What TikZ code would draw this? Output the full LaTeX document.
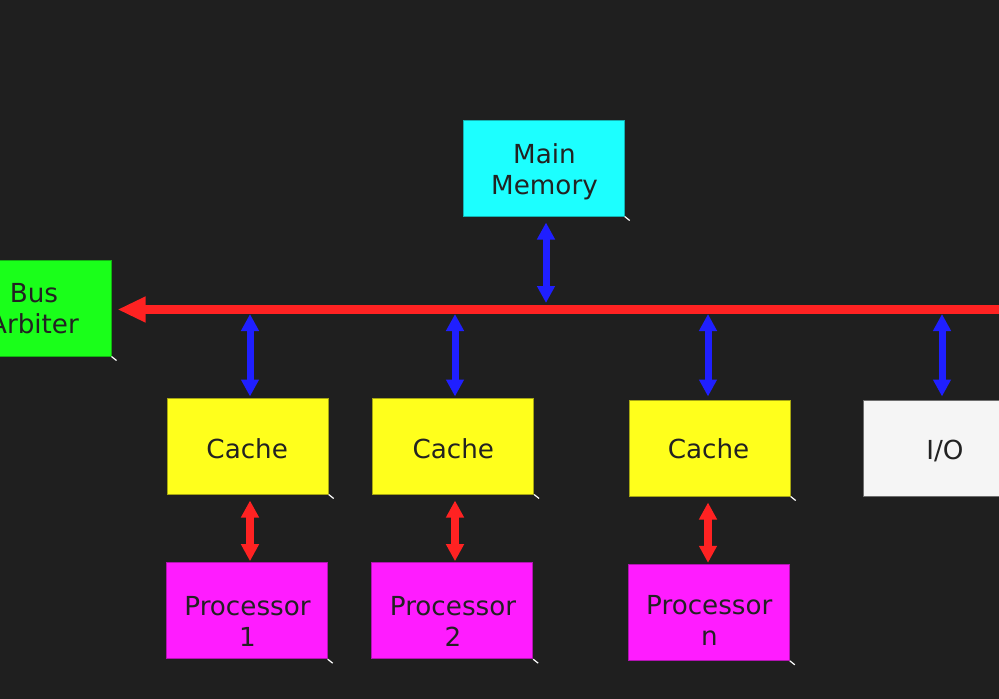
\documentclass[tikz,border=0pt]{standalone}
\usepackage{fontspec}
\setmainfont{DejaVu Sans}
\usetikzlibrary{arrows.meta,calc}
\definecolor{bg}{HTML}{1F1F1F}
\definecolor{txt}{HTML}{222222}
\definecolor{cyanbox}{HTML}{1CFFFF}
\definecolor{greenbox}{HTML}{1AFF1A}
\definecolor{yellowbox}{HTML}{FFFF1C}
\definecolor{magbox}{HTML}{FF1CFF}
\definecolor{iobox}{HTML}{F5F5F5}
\definecolor{reda}{HTML}{FF2222}
\definecolor{bluea}{HTML}{1F1FFF}
\tikzset{
  box/.style={minimum width=161pt, minimum height=96pt, inner sep=0pt, line width=1pt},
  lbl/.style={text=txt, align=center, font=\fontsize{26.2}{31}\selectfont, inner sep=0pt},
  barr/.style={draw=bluea, line width=7pt, arrows={Triangle[width=17pt,length=17pt]-Triangle[width=17pt,length=17pt]}},
  rarr/.style={draw=reda, line width=8pt, arrows={Triangle[width=17pt,length=17pt]-Triangle[width=17pt,length=17pt]}},
  busline/.style={draw=reda, line width=9pt, arrows={-Triangle[width=24pt,length=28pt]}},
  tick/.style={draw=white, line width=1.2pt}
}
\begin{document}
\begin{tikzpicture}[x=1pt,y=-1pt]
\useasboundingbox (0,0) rectangle (999,699);
\fill[bg] (0,0) rectangle (999,699);
\clip (0,0) rectangle (999,699);

% boxes
\node[box, fill=cyanbox, draw=cyanbox!70!black] (mm) at (543.7,168) {};
\node[lbl] (mmt) at (544.5,171.3) {Main\\Memory};

\node[box, minimum width=154pt, fill=greenbox, draw=greenbox!70!black] (ba) at (34,308) {};
\node[lbl] (bat) at (34,309) {Bus\\Arbiter};

\node[box, fill=yellowbox, draw=yellowbox!65!black] (c1) at (247.7,446) {};
\node[lbl] (c1t) at (247.2,449) {Cache};
\node[box, fill=yellowbox, draw=yellowbox!65!black] (c2) at (453.1,446) {};
\node[lbl] (c2t) at (453.3,449) {Cache};
\node[box, fill=yellowbox, draw=yellowbox!65!black] (cn) at (709.7,448) {};
\node[lbl] (cnt) at (708.5,449) {Cache};

\node[box, fill=iobox, draw=iobox!45!black] (io) at (943.7,448) {};
\node[lbl] (iot) at (945,450.5) {I/O};

\node[box, fill=magbox, draw=magbox!70!black] (p1) at (246.7,610.7) {};
\node[lbl] (p1t) at (247.5,621) {Processor\\1};
\node[box, fill=magbox, draw=magbox!70!black] (p2) at (452.2,610.7) {};
\node[lbl] (p2t) at (453,621) {Processor\\2};
\node[box, fill=magbox, draw=magbox!70!black] (pn) at (708.8,612.3) {};
\node[lbl] (pnt) at (709.3,620.5) {Processor\\n};

% corner ticks
\foreach \n in {mm,ba,c1,c2,cn,p1,p2,pn}{
  \draw[tick] (\n.south east) -- ++(5,4);
}

% bus
\coordinate (busR) at (1010,309.5);
\draw[busline] (busR) -- ($(ba.east |- busR)+(6,0)$);

% bus tap coordinates
\coordinate (b0) at (546,303);
\coordinate (b1) at (250,314);
\coordinate (b2) at (455,314);
\coordinate (b3) at (708,314);
\coordinate (b4) at (942,314);

% blue arrows
\draw[barr] ($(mm.south -| b0)+(0,6)$) -- (b0);
\draw[barr] (b1) -- ($(c1.north -| b1)+(0,-1)$);
\draw[barr] (b2) -- ($(c2.north -| b2)+(0,-1)$);
\draw[barr] (b3) -- ($(cn.north -| b3)+(0,-3)$);
\draw[barr] (b4) -- ($(io.north -| b4)+(0,-3)$);

% red arrows
\draw[rarr] ($(c1.south -| b1)+(0,6)$) -- ($(p1.north -| b1)+(0,-1)$);
\draw[rarr] ($(c2.south -| b2)+(0,6)$) -- ($(p2.north -| b2)+(0,-1)$);
\draw[rarr] ($(cn.south -| b3)+(0,6)$) -- ($(pn.north -| b3)+(0,-1)$);
\end{tikzpicture}
\end{document}
